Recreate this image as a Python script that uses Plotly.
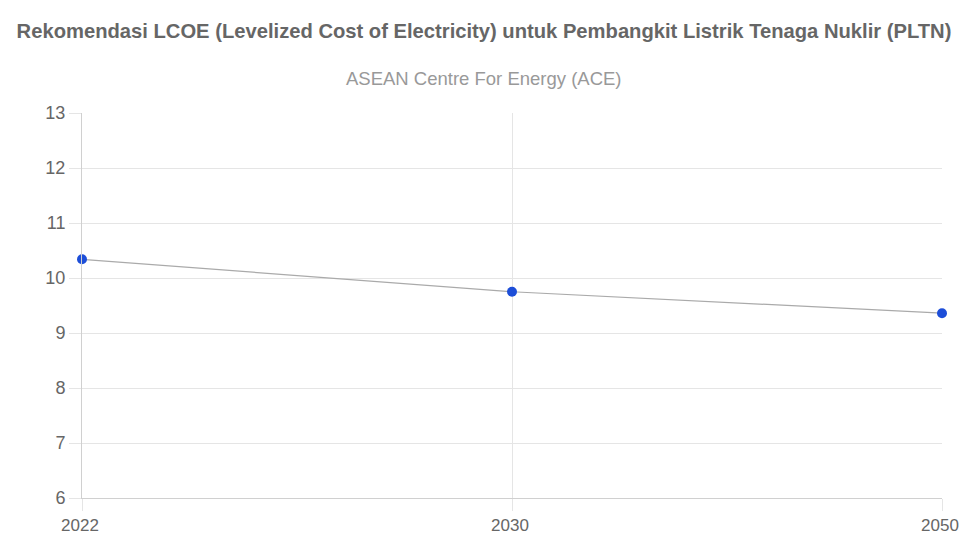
import plotly.graph_objects as go

# LCOE PLTN (ACE)
tahun = ["2022", "2030", "2050"]
lcoe = [10.34, 9.75, 9.36]
y_ticks = [6, 7, 8, 9, 10, 11, 12, 13]

fig = go.Figure()
fig.add_trace(go.Scatter(
    x=tahun, y=lcoe, mode="lines+markers",
    line=dict(color="#aaaaaa", width=1.2),
    marker=dict(color="#1d4ed8", size=10, line=dict(width=0)),
    cliponaxis=False, showlegend=False,
))

# page body has 8px margin, so figure is shifted by 8px
fig.update_layout(
    width=960, height=527,
    margin=dict(l=74, r=26, t=105, b=37),
    plot_bgcolor="white", paper_bgcolor="white",
    font=dict(family="Liberation Sans, Arial", color="#666666", size=18),
    title=dict(
        text="<b>Rekomendasi LCOE (Levelized Cost of Electricity) untuk Pembangkit Listrik Tenaga Nuklir (PLTN)</b>",
        x=476 / 960, xanchor="center", y=0.956, yanchor="middle",
        font=dict(size=20.2, color="#666666"),
    ),
    annotations=[dict(
        text="ASEAN Centre For Energy (ACE)", xref="paper", yref="paper",
        x=(484 - 82) / 860, y=1.0, yanchor="middle", yshift=35, showarrow=False,
        font=dict(size=18.5, color="#999999"),
    )],
)
fig.update_xaxes(
    type="category", range=[0, 2], showgrid=True, gridcolor="#e5e5e5",
    ticks="outside", ticklen=12, tickcolor="#e5e5e5", ticklabelshift=-2,
    showline=True, linecolor="#d0d0d0", zeroline=False, automargin=False,
    tickfont=dict(size=17, color="#666666"),
)
fig.update_yaxes(
    range=[6, 13], tickvals=y_ticks, showgrid=True, gridcolor="#e5e5e5",
    ticks="outside", ticklen=12, tickcolor="#e5e5e5",
    showline=True, linecolor="#d0d0d0", zeroline=False, automargin=False,
    tickfont=dict(size=18, color="#666666"),
)

fig.write_html("out.html")
